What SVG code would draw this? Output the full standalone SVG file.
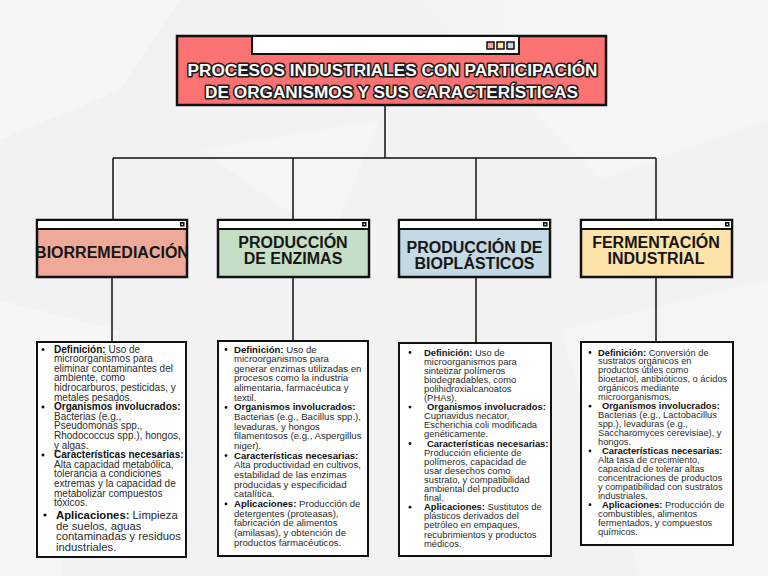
<svg xmlns="http://www.w3.org/2000/svg" width="768" height="576" viewBox="0 0 768 576">
<defs>
<style>
.bg{fill:#f2f2f2}
.frame{stroke:#111;stroke-width:2.5}
.bar{fill:#fff;stroke:#111;stroke-width:2}
.conn{fill:none;stroke:#111;stroke-width:1.5}
.title{font-family:"Liberation Sans",Arial,sans-serif;font-weight:bold;font-size:17.2px;fill:#fff;stroke:#1b1b1b;stroke-width:3.2px;paint-order:stroke;stroke-linejoin:round;text-anchor:middle}
.head{font-family:"Liberation Sans",Arial,sans-serif;font-weight:bold;font-size:16px;fill:#161616;text-anchor:middle}
.box{fill:#fff;stroke:#111;stroke-width:2}
.body{font-family:"Liberation Sans",Arial,sans-serif;fill:#2a2a2a}
.b{font-weight:bold;fill:#111}
.dot{fill:#111}
</style>
</defs>
<rect class="bg" x="0" y="0" width="768" height="576"/>
<g opacity="0.5">
<polygon points="0,0 180,0 120,90 0,140" fill="#fafafa"/>
<polygon points="420,0 768,0 768,120 600,180" fill="#f7f7f7"/>
<polygon points="0,300 120,330 60,576 0,576" fill="#fafafa"/>
<polygon points="560,330 768,280 768,576 640,576" fill="#f8f8f8"/>
<polygon points="200,150 380,120 330,240" fill="#f9f9f9"/>
</g>

<g id="connectors">
<path class="conn" d="M385,106 V158 M113,158 H656 M113,158 V219 M293,158 V219 M476,158 V219 M656,158 V219"/>
<path class="conn" d="M112,277 V342 M293,277 V341 M476,277 V343 M656,277 V342"/>
</g>

<g id="title">
<rect class="frame" x="177" y="36" width="429" height="69" fill="#fa7272"/>
<rect class="bar" x="252" y="36" width="267" height="18"/>
<rect x="487" y="42" width="7" height="7" fill="#efa999" stroke="#111" stroke-width="1.5"/>
<rect x="497" y="42" width="7" height="7" fill="#fde2a9" stroke="#111" stroke-width="1.5"/>
<rect x="507" y="42" width="7" height="7" fill="#c3d9e3" stroke="#111" stroke-width="1.5"/>
<text class="title" x="392.5" y="76">PROCESOS INDUSTRIALES CON PARTICIPACIÓN</text>
<text class="title" x="391.5" y="97.5">DE ORGANISMOS Y SUS CARACTERÍSTICAS</text>
</g>

<g id="h1">
<rect class="frame" x="37" y="220" width="150" height="57" fill="#efa999"/>
<rect class="bar" x="37" y="220" width="150" height="9"/>
<rect x="180" y="222" width="4.5" height="4.5" fill="#111"/><rect x="181.6" y="223.6" width="1.4" height="1.4" fill="#fff"/>
<text class="head" x="112" y="257.5" font-size="15.5">BIORREMEDIACIÓN</text>
</g>

<g id="h2">
<rect class="frame" x="218" y="220" width="151" height="57" fill="#c7dec6"/>
<rect class="bar" x="218" y="220" width="151" height="9"/>
<rect x="362" y="222" width="4.5" height="4.5" fill="#111"/><rect x="363.6" y="223.6" width="1.4" height="1.4" fill="#fff"/>
<text class="head" x="293" y="248.3">PRODUCCIÓN</text>
<text class="head" x="293" y="264.3">DE ENZIMAS</text>
</g>

<g id="h3">
<rect class="frame" x="399" y="220" width="151" height="57" fill="#c3d9e3"/>
<rect class="bar" x="399" y="220" width="151" height="9"/>
<rect x="543" y="222" width="4.5" height="4.5" fill="#111"/><rect x="544.6" y="223.6" width="1.4" height="1.4" fill="#fff"/>
<text class="head" x="474.5" y="252.7">PRODUCCIÓN DE</text>
<text class="head" x="474.5" y="269.3">BIOPLÁSTICOS</text>
</g>

<g id="h4">
<rect class="frame" x="581" y="220" width="151" height="57" fill="#fde2a9"/>
<rect class="bar" x="581" y="220" width="151" height="9"/>
<rect x="725" y="222" width="4.5" height="4.5" fill="#111"/><rect x="726.6" y="223.6" width="1.4" height="1.4" fill="#fff"/>
<text class="head" x="656" y="248.3">FERMENTACIÓN</text>
<text class="head" x="656" y="264.3">INDUSTRIAL</text>
</g>

<g id="t1">
<rect class="box" x="37" y="342" width="149" height="215"/>
<circle class="dot" cx="43" cy="349.5" r="1.5"/>
<circle class="dot" cx="43" cy="407" r="1.5"/>
<circle class="dot" cx="43" cy="455" r="1.5"/>
<circle class="dot" cx="45" cy="515" r="1.6"/>
<text class="body" font-size="10">
<tspan x="54" y="352.5"><tspan class="b">Definición:</tspan> Uso de</tspan>
<tspan x="54" y="362.1">microorganismos para</tspan>
<tspan x="54" y="371.7">eliminar contaminantes del</tspan>
<tspan x="54" y="381.3">ambiente, como</tspan>
<tspan x="54" y="390.9">hidrocarburos, pesticidas, y</tspan>
<tspan x="54" y="400.5">metales pesados.</tspan>
<tspan x="54" y="410.1" class="b">Organismos involucrados:</tspan>
<tspan x="54" y="419.7">Bacterias (e.g.,</tspan>
<tspan x="54" y="429.3">Pseudomonas spp.,</tspan>
<tspan x="54" y="438.9">Rhodococcus spp.), hongos,</tspan>
<tspan x="54" y="448.5">y algas.</tspan>
<tspan x="54" y="458.1" class="b">Características necesarias:</tspan>
<tspan x="54" y="467.7">Alta capacidad metabólica,</tspan>
<tspan x="54" y="477.3">tolerancia a condiciones</tspan>
<tspan x="54" y="486.9">extremas y la capacidad de</tspan>
<tspan x="54" y="496.5">metabolizar compuestos</tspan>
<tspan x="54" y="506.1">tóxicos.</tspan>
</text>
<text class="body" font-size="11.3">
<tspan x="56" y="519"><tspan class="b">Aplicaciones:</tspan> Limpieza</tspan>
<tspan x="56" y="529.7">de suelos, aguas</tspan>
<tspan x="56" y="540.3">contaminadas y residuos</tspan>
<tspan x="56" y="551">industriales.</tspan>
</text>
</g>

<g id="t2">
<rect class="box" x="218" y="341" width="150" height="215"/>
<circle class="dot" cx="226" cy="349.5" r="1.4"/>
<circle class="dot" cx="226" cy="407.4" r="1.4"/>
<circle class="dot" cx="226" cy="455.6" r="1.4"/>
<circle class="dot" cx="226" cy="503.9" r="1.4"/>
<text class="body" font-size="9.6">
<tspan x="234" y="352.5"><tspan class="b">Definición:</tspan> Uso de</tspan>
<tspan x="234" y="362.15">microorganismos para</tspan>
<tspan x="234" y="371.8">generar enzimas utilizadas en</tspan>
<tspan x="234" y="381.45">procesos como la industria</tspan>
<tspan x="234" y="391.1">alimentaria, farmacéutica y</tspan>
<tspan x="234" y="400.75">textil.</tspan>
<tspan x="234" y="410.4" class="b">Organismos involucrados:</tspan>
<tspan x="234" y="420.05">Bacterias (e.g., Bacillus spp.),</tspan>
<tspan x="234" y="429.7">levaduras, y hongos</tspan>
<tspan x="234" y="439.35">filamentosos (e.g., Aspergillus</tspan>
<tspan x="234" y="449">niger).</tspan>
<tspan x="234" y="458.65" class="b">Características necesarias:</tspan>
<tspan x="234" y="468.3">Alta productividad en cultivos,</tspan>
<tspan x="234" y="477.95">estabilidad de las enzimas</tspan>
<tspan x="234" y="487.6">producidas y especificidad</tspan>
<tspan x="234" y="497.25">catalítica.</tspan>
<tspan x="234" y="506.9"><tspan class="b">Aplicaciones:</tspan> Producción de</tspan>
<tspan x="234" y="516.55">detergentes (proteasas),</tspan>
<tspan x="234" y="526.2">fabricación de alimentos</tspan>
<tspan x="234" y="535.85">(amilasas), y obtención de</tspan>
<tspan x="234" y="545.5">productos farmacéuticos.</tspan>
</text>
</g>

<g id="t3">
<rect class="box" x="399" y="343" width="152" height="213"/>
<circle class="dot" cx="410" cy="352.5" r="1.4"/>
<circle class="dot" cx="410" cy="407.1" r="1.4"/>
<circle class="dot" cx="410" cy="443.5" r="1.4"/>
<circle class="dot" cx="410" cy="507.2" r="1.4"/>
<text class="body" font-size="9.4">
<tspan x="424" y="355.5"><tspan class="b">Definición:</tspan> Uso de</tspan>
<tspan x="424" y="364.6">microorganismos para</tspan>
<tspan x="424" y="373.7">sintetizar polímeros</tspan>
<tspan x="424" y="382.8">biodegradables, como</tspan>
<tspan x="424" y="391.9">polihidroxialcanoatos</tspan>
<tspan x="424" y="401">(PHAs).</tspan>
<tspan x="427" y="410.1" class="b">Organismos involucrados:</tspan>
<tspan x="424" y="419.2">Cupriavidus necator,</tspan>
<tspan x="424" y="428.3">Escherichia coli modificada</tspan>
<tspan x="424" y="437.4">genéticamente.</tspan>
<tspan x="427" y="446.5" class="b">Características necesarias:</tspan>
<tspan x="424" y="455.6">Producción eficiente de</tspan>
<tspan x="424" y="464.7">polímeros, capacidad de</tspan>
<tspan x="424" y="473.8">usar desechos como</tspan>
<tspan x="424" y="482.9">sustrato, y compatibilidad</tspan>
<tspan x="424" y="492">ambiental del producto</tspan>
<tspan x="424" y="501.1">final.</tspan>
<tspan x="424" y="510.2"><tspan class="b">Aplicaciones:</tspan> Sustitutos de</tspan>
<tspan x="424" y="519.3">plásticos derivados del</tspan>
<tspan x="424" y="528.4">petróleo en empaques,</tspan>
<tspan x="424" y="537.5">recubrimientos y productos</tspan>
<tspan x="424" y="546.6">médicos.</tspan>
</text>
</g>

<g id="t4">
<rect class="box" x="581" y="342" width="152" height="203"/>
<circle class="dot" cx="590" cy="352.5" r="1.4"/>
<circle class="dot" cx="590" cy="406.2" r="1.4"/>
<circle class="dot" cx="590" cy="451" r="1.4"/>
<circle class="dot" cx="590" cy="504.7" r="1.4"/>
<text class="body" font-size="9.3">
<tspan x="598" y="355.5"><tspan class="b">Definición:</tspan> Conversión de</tspan>
<tspan x="598" y="364.45">sustratos orgánicos en</tspan>
<tspan x="598" y="373.4">productos útiles como</tspan>
<tspan x="598" y="382.35">bioetanol, antibióticos, o ácidos</tspan>
<tspan x="598" y="391.3">orgánicos mediante</tspan>
<tspan x="598" y="400.25">microorganismos.</tspan>
<tspan x="602" y="409.2" class="b">Organismos involucrados:</tspan>
<tspan x="598" y="418.15">Bacterias (e.g., Lactobacillus</tspan>
<tspan x="598" y="427.1">spp.), levaduras (e.g.,</tspan>
<tspan x="598" y="436.05">Saccharomyces cerevisiae), y</tspan>
<tspan x="598" y="445">hongos.</tspan>
<tspan x="602" y="453.95" class="b">Características necesarias:</tspan>
<tspan x="598" y="462.9">Alta tasa de crecimiento,</tspan>
<tspan x="598" y="471.85">capacidad de tolerar altas</tspan>
<tspan x="598" y="480.8">concentraciones de productos</tspan>
<tspan x="598" y="489.75">y compatibilidad con sustratos</tspan>
<tspan x="598" y="498.7">industriales.</tspan>
<tspan x="602" y="507.65"><tspan class="b">Aplicaciones:</tspan> Producción de</tspan>
<tspan x="598" y="516.6">combustibles, alimentos</tspan>
<tspan x="598" y="525.55">fermentados, y compuestos</tspan>
<tspan x="598" y="534.5">químicos.</tspan>
</text>
</g>
</svg>
